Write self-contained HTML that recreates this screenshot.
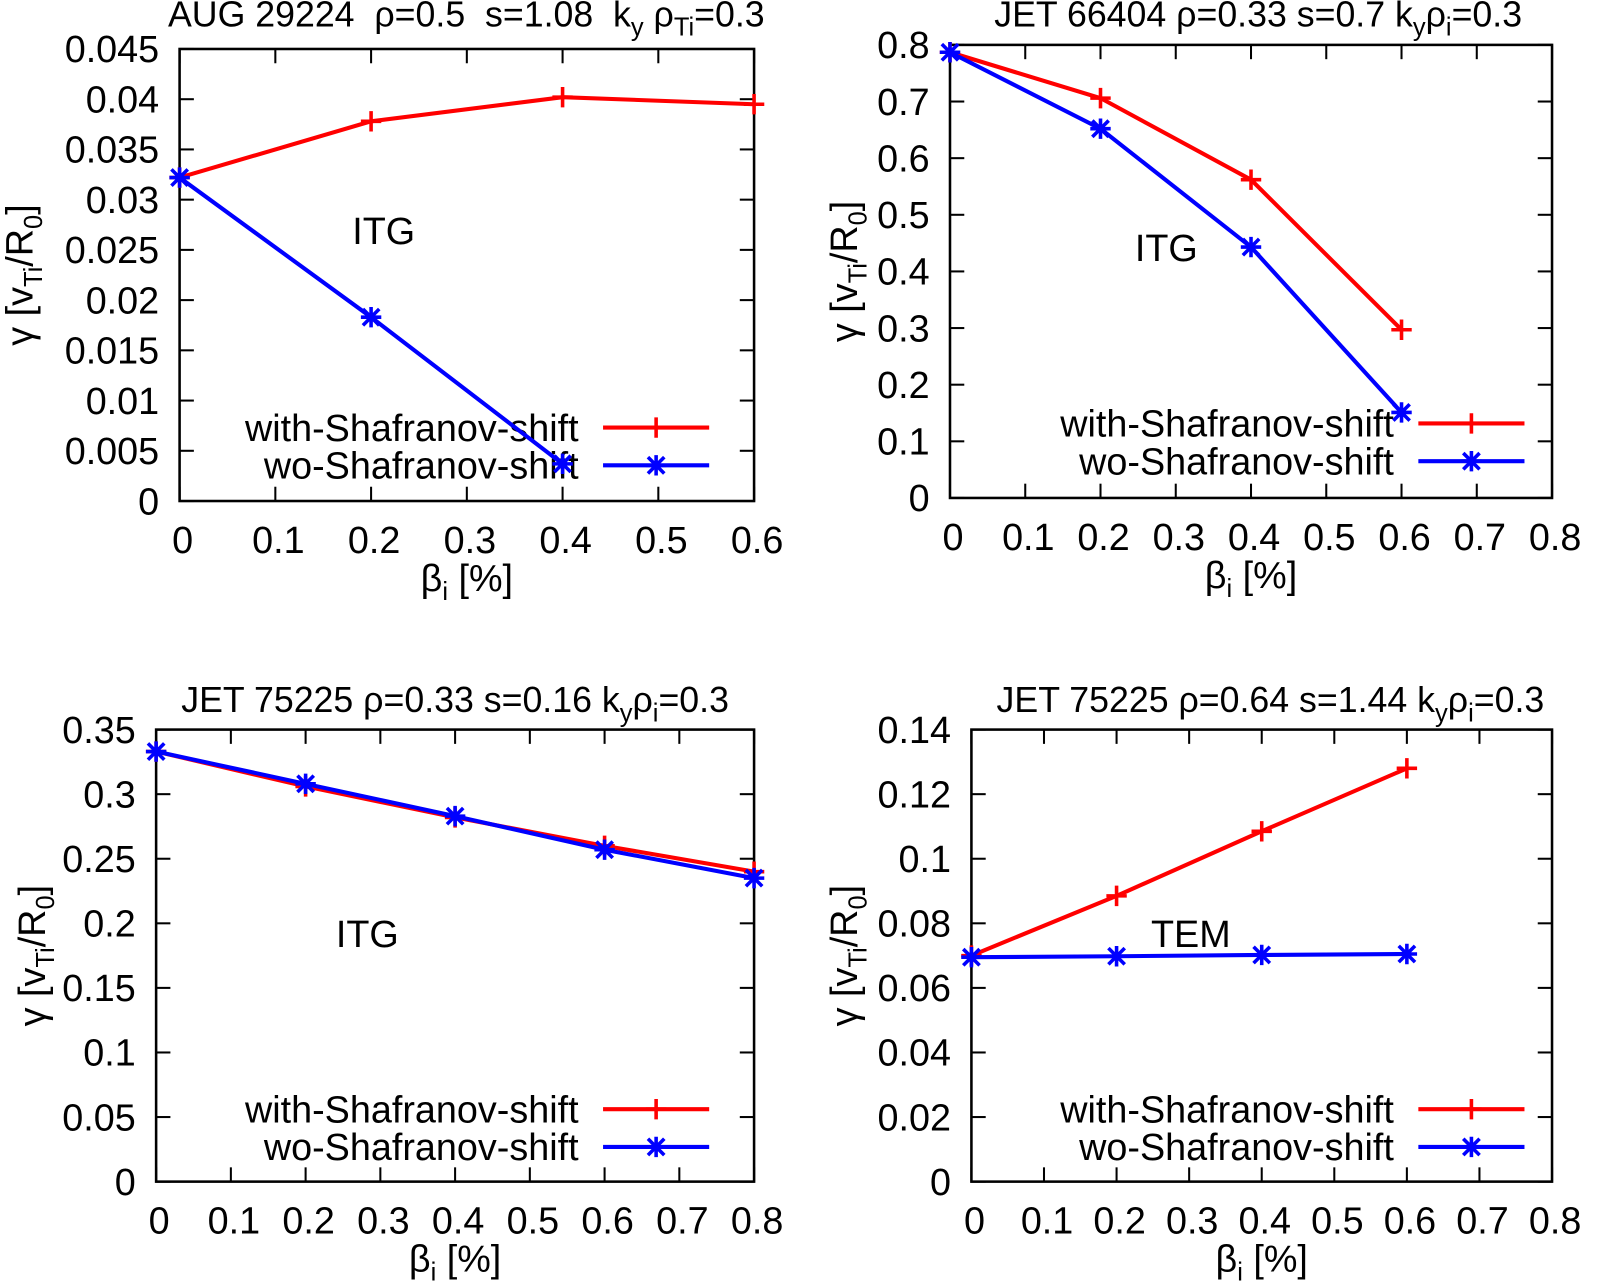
<!DOCTYPE html>
<html><head><meta charset="utf-8"><style>body{margin:0;background:#fff}svg{display:block}text{font-family:"Liberation Sans",sans-serif;fill:#000}</style></head>
<body>
<svg width="1600" height="1283" viewBox="0 0 1600 1283" xmlns="http://www.w3.org/2000/svg"><g id="s" transform="scale(1.0204)"></g></svg>
<script>
const S=document.getElementById('s');let h='';
function plot(o){
 const {L,R,T,B,xmax,xstep,ymax,ystep,ydec}=o;
 const X=v=>L+(R-L)*v/xmax, Y=v=>B-(B-T)*v/ymax;
 h+=`<rect x="${L}" y="${T}" width="${R-L}" height="${B-T}" fill="none" stroke="#000" stroke-width="2.5"/>`;
 for(let i=0;i<=Math.round(xmax/xstep);i++){const x=X(i*xstep);
  h+=`<line x1="${x}" y1="${B}" x2="${x}" y2="${B-14}" stroke="#000" stroke-width="2"/><line x1="${x}" y1="${T}" x2="${x}" y2="${T+14}" stroke="#000" stroke-width="2"/>`;
  h+=`<text x="${x+3}" y="${B+51}" font-size="37" text-anchor="middle">${+(i*xstep).toFixed(1)}</text>`;}
 for(let i=0;i<=Math.round(ymax/ystep);i++){const y=Y(i*ystep);
  h+=`<line x1="${L}" y1="${y}" x2="${L+14}" y2="${y}" stroke="#000" stroke-width="2"/><line x1="${R}" y1="${y}" x2="${R-14}" y2="${y}" stroke="#000" stroke-width="2"/>`;
  const v=i*ystep;h+=`<text x="${L-20}" y="${y+13}" font-size="37" text-anchor="end">${v===0?'0':+v.toFixed(ydec)}</text>`;}
 h+=`<text x="${(L+R)/2}" y="${B+88}" font-size="37" text-anchor="middle">β<tspan font-size="25" dy="9">i</tspan><tspan dy="-9"> [%]</tspan></text>`;
 h+=`<text transform="translate(${o.yl},${(T+B)/2}) rotate(-90)" font-size="37" text-anchor="middle">γ [v<tspan font-size="25" dy="9">Ti</tspan><tspan dy="-9">/R</tspan><tspan font-size="25" dy="9">0</tspan><tspan dy="-9">]</tspan></text>`;
 h+=`<text x="${o.tx}" y="${o.ty}" font-size="35" text-anchor="middle" xml:space="preserve">${o.title}</text>`;
 h+=`<text x="${o.ax}" y="${o.ay}" font-size="37" text-anchor="middle">${o.ann}</text>`;
 h+=`<text x="${o.lx}" y="${o.ly+13}" font-size="37" text-anchor="end">with-Shafranov-shift</text><text x="${o.lx}" y="${o.ly+50}" font-size="37" text-anchor="end">wo-Shafranov-shift</text>`;
 const series=[[o.red,'#f00',plus],[o.blue,'#00f',star]];
 series.forEach(([d,c,m],k)=>{
  const pts=d.map((v,i)=>[X(i*0.2),Y(v)]);
  h+=`<polyline points="${pts.map(p=>p.join(',')).join(' ')}" fill="none" stroke="${c}" stroke-width="4"/>`;
  pts.forEach(p=>h+=m(p[0],p[1],c));
  const ly=o.ly+k*37;
  h+=`<line x1="${o.lx+24}" y1="${ly}" x2="${o.lx+128}" y2="${ly}" stroke="${c}" stroke-width="4"/>`+m(o.lx+76,ly,c);
 });
}
function plus(x,y,c){return `<path d="M${x-10},${y}H${x+10}M${x},${y-10}V${y+10}" stroke="${c}" stroke-width="3.5"/>`}
function star(x,y,c){return `<path d="M${x-10},${y}H${x+10}M${x},${y-10}V${y+10}M${x-8},${y-8}L${x+8},${y+8}M${x-8},${y+8}L${x+8},${y-8}" stroke="${c}" stroke-width="3.5"/>`}
plot({L:176,R:739,T:48,B:491,xmax:0.6,xstep:0.1,ymax:0.045,ystep:0.005,ydec:3,yl:32,tx:457,ty:26,
 title:'AUG 29224  ρ=0.5  s=1.08  k<tspan font-size="25" dy="9">y</tspan><tspan dy="-9"> ρ</tspan><tspan font-size="25" dy="9">Ti</tspan><tspan dy="-9">=0.3</tspan>',
 ax:376,ay:239,ann:'ITG',lx:567,ly:419,red:[0.0322,0.0378,0.0402,0.0395],blue:[0.0322,0.0183,0.0037]});
plot({L:931,R:1521,T:44,B:488,xmax:0.8,xstep:0.1,ymax:0.8,ystep:0.1,ydec:1,yl:840,tx:1233,ty:26,
 title:'JET 66404 ρ=0.33 s=0.7 k<tspan font-size="25" dy="9">y</tspan><tspan dy="-9">ρ</tspan><tspan font-size="25" dy="9">i</tspan><tspan dy="-9">=0.3</tspan>',
 ax:1143,ay:256,ann:'ITG',lx:1366,ly:415,red:[0.787,0.706,0.562,0.297],blue:[0.787,0.652,0.443,0.151]});
plot({L:153,R:739,T:715,B:1158,xmax:0.8,xstep:0.1,ymax:0.35,ystep:0.05,ydec:2,yl:44,tx:446,ty:698,
 title:'JET 75225 ρ=0.33 s=0.16 k<tspan font-size="25" dy="9">y</tspan><tspan dy="-9">ρ</tspan><tspan font-size="25" dy="9">i</tspan><tspan dy="-9">=0.3</tspan>',
 ax:360,ay:928,ann:'ITG',lx:567,ly:1087,red:[0.333,0.306,0.282,0.260,0.240],blue:[0.333,0.308,0.283,0.257,0.235]});
plot({L:952,R:1521,T:715,B:1158,xmax:0.8,xstep:0.1,ymax:0.14,ystep:0.02,ydec:2,yl:840,tx:1245,ty:698,
 title:'JET 75225 ρ=0.64 s=1.44 k<tspan font-size="25" dy="9">y</tspan><tspan dy="-9">ρ</tspan><tspan font-size="25" dy="9">i</tspan><tspan dy="-9">=0.3</tspan>',
 ax:1167,ay:928,ann:'TEM',lx:1366,ly:1087,red:[0.07,0.0885,0.1085,0.128],blue:[0.0695,0.0698,0.0702,0.0705]});
S.innerHTML=h;
</script>
</body></html>
